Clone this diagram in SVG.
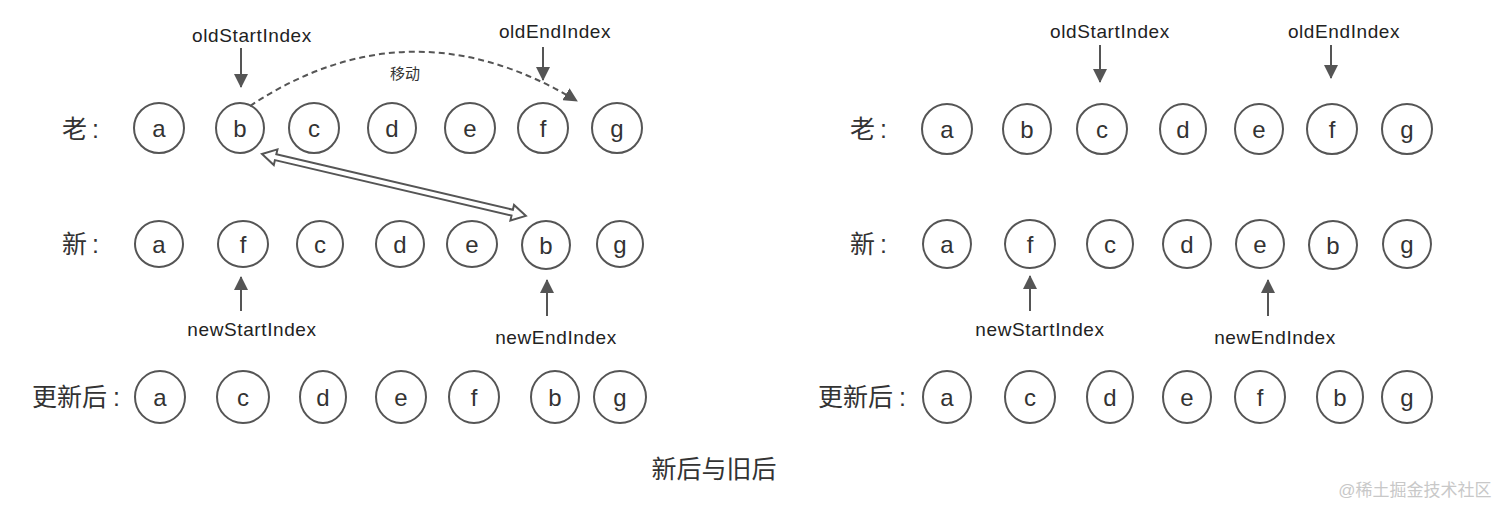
<svg xmlns="http://www.w3.org/2000/svg" width="1512" height="515" viewBox="0 0 1512 515">
<defs>
<marker id="ah" viewBox="0 0 14 14" refX="13" refY="7" markerWidth="14" markerHeight="14" markerUnits="userSpaceOnUse" orient="auto">
<path d="M0,0 L14,7 L0,14 Z" fill="#555"/>
</marker>
<marker id="ah2" viewBox="0 0 14 14" refX="13" refY="7" markerWidth="14" markerHeight="14" markerUnits="userSpaceOnUse" orient="auto">
<path d="M0,0 L14,7 L0,14 Z" fill="#555"/>
</marker>
</defs>
<style>
.n ellipse{fill:#fff;stroke:#555;stroke-width:2}
.n text{font-family:"Liberation Sans",Arial,sans-serif;font-size:24px;fill:#333;text-anchor:middle}
.lab{font-family:"Liberation Sans","Noto Sans CJK SC",sans-serif;font-size:25px;fill:#333}
.idx{font-family:"Liberation Sans",Arial,sans-serif;font-size:19px;fill:#222;text-anchor:middle;letter-spacing:0.6px}
.ptr{stroke:#555;stroke-width:2;fill:none;marker-end:url(#ah2)}
</style>
<rect width="1512" height="515" fill="#fff"/>

<!-- row labels -->
<g id="labels">
<text class="lab" x="62" y="138">老<tspan dx="5">:</tspan></text>
<text class="lab" x="62" y="253">新<tspan dx="5">:</tspan></text>
<text class="lab" x="32" y="406">更新后<tspan dx="6">:</tspan></text>
<text class="lab" x="850" y="138">老<tspan dx="5">:</tspan></text>
<text class="lab" x="850" y="253">新<tspan dx="5">:</tspan></text>
<text class="lab" x="818" y="406">更新后<tspan dx="6">:</tspan></text>
<text class="idx" x="252" y="42">oldStartIndex</text>
<text class="idx" x="555" y="38">oldEndIndex</text>
<text class="idx" x="252" y="336">newStartIndex</text>
<text class="idx" x="556" y="344">newEndIndex</text>
<text class="idx" x="1110" y="38">oldStartIndex</text>
<text class="idx" x="1344" y="38">oldEndIndex</text>
<text class="idx" x="1040" y="336">newStartIndex</text>
<text class="idx" x="1275" y="344">newEndIndex</text>
<text x="405" y="79" font-family="'Liberation Sans','Noto Sans CJK SC',sans-serif" font-size="15" fill="#333" text-anchor="middle">移动</text>
<text x="714" y="478" font-family="'Liberation Sans','Noto Sans CJK SC',sans-serif" font-size="25" fill="#333" text-anchor="middle">新后与旧后</text>
<text x="1415" y="496" font-family="'Liberation Sans','Noto Sans CJK SC',sans-serif" font-size="17" fill="#c8c8c8" text-anchor="middle">@稀土掘金技术社区</text>
</g>

<!-- left old row -->
<g id="L-old-a" class="n"><ellipse cx="159" cy="128" rx="25" ry="25"/><text x="159" y="137">a</text></g>
<g id="L-old-b" class="n"><ellipse cx="240" cy="128" rx="24" ry="25"/><text x="240" y="137">b</text></g>
<g id="L-old-c" class="n"><ellipse cx="314" cy="128" rx="25" ry="25"/><text x="314" y="137">c</text></g>
<g id="L-old-d" class="n"><ellipse cx="392" cy="128" rx="24" ry="25"/><text x="392" y="137">d</text></g>
<g id="L-old-e" class="n"><ellipse cx="470" cy="128" rx="25" ry="25"/><text x="470" y="137">e</text></g>
<g id="L-old-f" class="n"><ellipse cx="543" cy="128" rx="25" ry="25"/><text x="543" y="137">f</text></g>
<g id="L-old-g" class="n"><ellipse cx="617" cy="128" rx="25" ry="25"/><text x="617" y="137">g</text></g>

<!-- left new row -->
<g id="L-new-a" class="n"><ellipse cx="159" cy="244" rx="24" ry="23"/><text x="159" y="253">a</text></g>
<g id="L-new-f" class="n"><ellipse cx="243" cy="244" rx="25" ry="23"/><text x="243" y="253">f</text></g>
<g id="L-new-c" class="n"><ellipse cx="320" cy="244" rx="23" ry="23"/><text x="320" y="253">c</text></g>
<g id="L-new-d" class="n"><ellipse cx="400" cy="244" rx="24" ry="23"/><text x="400" y="253">d</text></g>
<g id="L-new-e" class="n"><ellipse cx="472" cy="244" rx="25" ry="23"/><text x="472" y="253">e</text></g>
<g id="L-new-b" class="n"><ellipse cx="546" cy="245" rx="24" ry="24"/><text x="546" y="254">b</text></g>
<g id="L-new-g" class="n"><ellipse cx="620" cy="244" rx="23" ry="23"/><text x="620" y="253">g</text></g>

<!-- left updated row -->
<g id="L-upd-a" class="n"><ellipse cx="160" cy="397" rx="25" ry="26"/><text x="160" y="406">a</text></g>
<g id="L-upd-c" class="n"><ellipse cx="243" cy="397" rx="26" ry="26"/><text x="243" y="406">c</text></g>
<g id="L-upd-d" class="n"><ellipse cx="323" cy="397" rx="23" ry="26"/><text x="323" y="406">d</text></g>
<g id="L-upd-e" class="n"><ellipse cx="401" cy="397" rx="25" ry="26"/><text x="401" y="406">e</text></g>
<g id="L-upd-f" class="n"><ellipse cx="474" cy="397" rx="25" ry="26"/><text x="474" y="406">f</text></g>
<g id="L-upd-b" class="n"><ellipse cx="555" cy="397" rx="24" ry="26"/><text x="555" y="406">b</text></g>
<g id="L-upd-g" class="n"><ellipse cx="620" cy="397" rx="26" ry="26"/><text x="620" y="406">g</text></g>

<!-- right old row -->
<g id="R-old-a" class="n"><ellipse cx="947" cy="129" rx="25" ry="25"/><text x="947" y="138">a</text></g>
<g id="R-old-b" class="n"><ellipse cx="1027" cy="129" rx="24" ry="25"/><text x="1027" y="138">b</text></g>
<g id="R-old-c" class="n"><ellipse cx="1102" cy="129" rx="25" ry="25"/><text x="1102" y="138">c</text></g>
<g id="R-old-d" class="n"><ellipse cx="1183" cy="129" rx="23" ry="25"/><text x="1183" y="138">d</text></g>
<g id="R-old-e" class="n"><ellipse cx="1259" cy="129" rx="24" ry="25"/><text x="1259" y="138">e</text></g>
<g id="R-old-f" class="n"><ellipse cx="1332" cy="129" rx="25" ry="25"/><text x="1332" y="138">f</text></g>
<g id="R-old-g" class="n"><ellipse cx="1407" cy="129" rx="25" ry="25"/><text x="1407" y="138">g</text></g>

<!-- right new row -->
<g id="R-new-a" class="n"><ellipse cx="947" cy="244" rx="24" ry="24"/><text x="947" y="253">a</text></g>
<g id="R-new-f" class="n"><ellipse cx="1030" cy="244" rx="25" ry="24"/><text x="1030" y="253">f</text></g>
<g id="R-new-c" class="n"><ellipse cx="1110" cy="244" rx="23" ry="24"/><text x="1110" y="253">c</text></g>
<g id="R-new-d" class="n"><ellipse cx="1187" cy="244" rx="24" ry="24"/><text x="1187" y="253">d</text></g>
<g id="R-new-e" class="n"><ellipse cx="1260" cy="244" rx="24" ry="24"/><text x="1260" y="253">e</text></g>
<g id="R-new-b" class="n"><ellipse cx="1333" cy="245" rx="24" ry="24"/><text x="1333" y="254">b</text></g>
<g id="R-new-g" class="n"><ellipse cx="1407" cy="244" rx="24" ry="24"/><text x="1407" y="253">g</text></g>

<!-- right updated row -->
<g id="R-upd-a" class="n"><ellipse cx="947" cy="397" rx="24" ry="26"/><text x="947" y="406">a</text></g>
<g id="R-upd-c" class="n"><ellipse cx="1030" cy="397" rx="25" ry="26"/><text x="1030" y="406">c</text></g>
<g id="R-upd-d" class="n"><ellipse cx="1110" cy="397" rx="23" ry="26"/><text x="1110" y="406">d</text></g>
<g id="R-upd-e" class="n"><ellipse cx="1187" cy="397" rx="24" ry="26"/><text x="1187" y="406">e</text></g>
<g id="R-upd-f" class="n"><ellipse cx="1260" cy="397" rx="25" ry="26"/><text x="1260" y="406">f</text></g>
<g id="R-upd-b" class="n"><ellipse cx="1340" cy="397" rx="23" ry="26"/><text x="1340" y="406">b</text></g>
<g id="R-upd-g" class="n"><ellipse cx="1407" cy="397" rx="25" ry="26"/><text x="1407" y="406">g</text></g>

<!-- connectors -->
<g id="connectors">
<line class="ptr" x1="241" y1="48" x2="241" y2="87"/>
<line class="ptr" x1="543" y1="47" x2="543" y2="80"/>
<line class="ptr" x1="241" y1="311" x2="241" y2="277"/>
<line class="ptr" x1="547" y1="316" x2="547" y2="280"/>
<line class="ptr" x1="1100" y1="45" x2="1100" y2="82"/>
<line class="ptr" x1="1331" y1="45" x2="1331" y2="78"/>
<line class="ptr" x1="1030" y1="311" x2="1030" y2="276"/>
<line class="ptr" x1="1268" y1="316" x2="1268" y2="280"/>
<path d="M250,106 Q410,0 577,101" fill="none" stroke="#555" stroke-width="2" stroke-dasharray="6,4" marker-end="url(#ah)"/>
<g transform="translate(262,154) rotate(13.2)">
<polygon points="0,0 14,-8 14,-3 257,-3 257,-8 271,0 257,8 257,3 14,3 14,8" fill="#fff" stroke="#555" stroke-width="2" stroke-linejoin="miter"/>
</g>
</g>
</svg>
